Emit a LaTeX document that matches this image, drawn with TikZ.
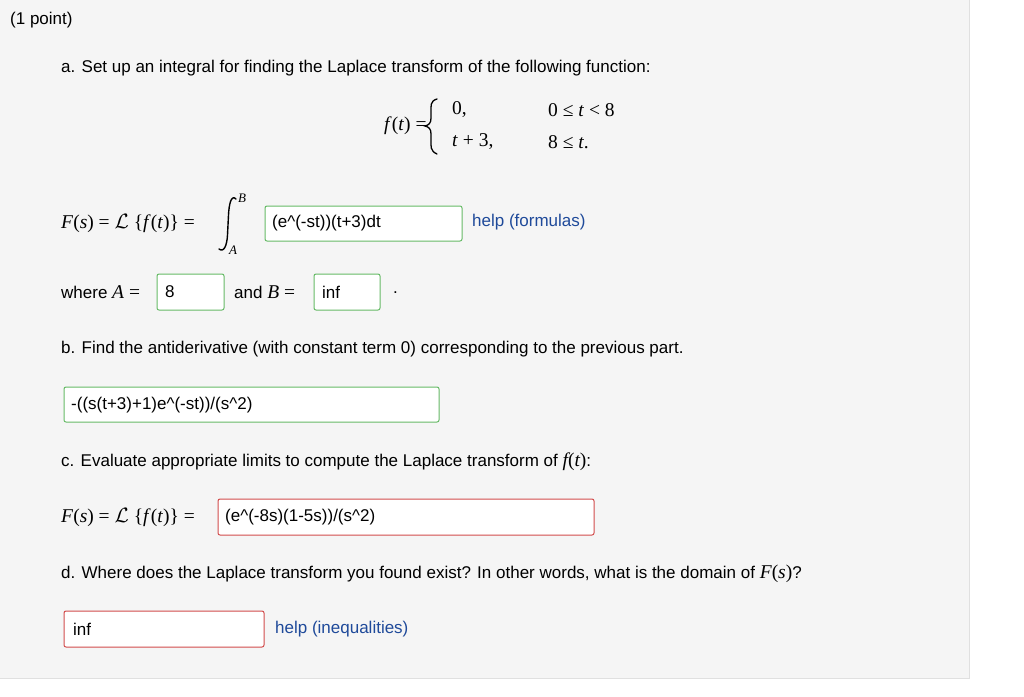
\documentclass[tikz,border=0pt]{standalone}
\usepackage{fontspec}
\setmainfont{Liberation Sans}
\newfontfamily\tm{Liberation Serif}
\definecolor{lnkc}{HTML}{1F4A9A}
\begin{document}
\begin{tikzpicture}[x=1pt,y=-1pt,
  txt/.style={anchor=west,inner sep=0pt,font=\fontsize{17}{19}\selectfont},
  mth/.style={anchor=west,inner sep=0pt,font=\tm\fontsize{19.5}{21}\selectfont},
  gbox/.style={draw=green!55!black!60,line width=1pt,rounded corners=2pt,fill=white},
  rbox/.style={draw=red!75!black!70,line width=1pt,rounded corners=2pt,fill=white},
  lnk/.style={txt,text=lnkc}]
\useasboundingbox (0,0) rectangle (1024,696);
\fill[white] (0,0) rectangle (1024,696);
\draw[draw=black!12,fill=black!4] (-1,-1) rectangle (969,678);
\node[txt] (pt) at (10,20) {(1 point)};
\node[txt] (a) at (61,68) {a. Set up an integral for finding the Laplace transform of the following function:};
\node[mth] (ft) at (384,126) {\textit{f}(\textit{t}) =};
\coordinate (bt) at (437,99);
\coordinate (bm) at (425,126);
\coordinate (bb) at (437,154);
\draw[line width=1.3pt,line cap=round] (bt) .. controls (430,101) and (431,106) .. (431,112) -- (431,118) .. controls (431,123) and (429,125) .. (bm) .. controls (429,127) and (431,129) .. (431,134) -- (431,140) .. controls (431,146) and (430,151) .. (bb);
\node[mth] (r1a) at (452,110) {0,};
\node[mth] (r2a) at (452,142) {\textit{t} + 3,};
\node[mth] (r1b) at (548,110) {0 ≤ \textit{t} < 8};
\node[mth] (r2b) at (548,142) {8 ≤ \textit{t}.};
\node[mth] (Fs) at (61,223) {\textit{F}(\textit{s}) = $\mathcal{L}$ \{\textit{f}(\textit{t})\} =};
\coordinate (it) at (236,199);
\coordinate (ib) at (219,249);
\draw[line width=1.4pt,line cap=round] (it) .. controls (231,194) and (229,205) .. (228.5,215) -- (227.5,235) .. controls (227,245) and (224,253) .. (ib);
\node[mth,font=\tm\itshape\fontsize{13}{14}\selectfont] (B) at (238,198) {B};
\node[mth,font=\tm\itshape\fontsize{13}{14}\selectfont] (A) at (229,250) {A};
\draw[gbox] (265,206) rectangle (462,241);
\node[txt] (i1) at (272,223) {(e\^{}(-st))(t+3)dt};
\node[lnk] (h1) at (472,222) {help (formulas)};
\node[txt] (wh) at (61,292) {where \tm\itshape\fontsize{19.5}{21}\selectfont A \upshape=};
\draw[gbox] (157,274) rectangle (224,310);
\node[txt] (v8) at (165,292) {8};
\node[txt] (and) at (234,292) {and \tm\itshape\fontsize{19.5}{21}\selectfont B \upshape=};
\draw[gbox] (314,274) rectangle (380,310);
\node[txt] (vinf) at (322,292) {inf};
\node[txt] (dot) at (393,293) {.};
\node[txt] (b) at (61,349) {b. Find the antiderivative (with constant term 0) corresponding to the previous part.};
\draw[gbox] (64,387) rectangle (439,422);
\node[txt] (bv) at (71,405) {-((s(t+3)+1)e\^{}(-st))/(s\^{}2)};
\node[txt] (c) at (61,462) {c. Evaluate appropriate limits to compute the Laplace transform of {\tm\itshape\fontsize{19.5}{21}\selectfont f\upshape(\itshape t\upshape)}:};
\node[mth] (Fs2) at (61,517) {\textit{F}(\textit{s}) = $\mathcal{L}$ \{\textit{f}(\textit{t})\} =};
\draw[rbox] (218,499) rectangle (594,535);
\node[txt] (cv) at (225,517) {(e\^{}(-8s)(1-5s))/(s\^{}2)};
\node[txt] (d) at (61,574) {d. Where does the Laplace transform you found exist? In other words, what is the domain of {\tm\itshape\fontsize{19.5}{21}\selectfont F\upshape(\itshape s\upshape)}?};
\draw[rbox] (64,611) rectangle (264,647);
\node[txt] (dv) at (73,629) {inf};
\node[lnk] (h2) at (275,629) {help (inequalities)};
\end{tikzpicture}
\end{document}
